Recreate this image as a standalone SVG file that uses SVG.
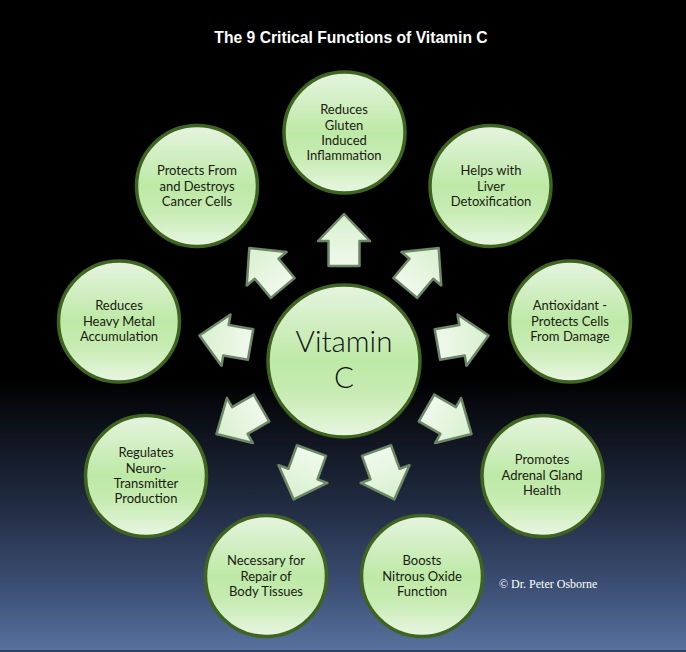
<svg xmlns="http://www.w3.org/2000/svg" xmlns:xlink="http://www.w3.org/1999/xlink" width="686" height="652" viewBox="0 0 686 652">
<style>
.n{stroke:#3f6420;stroke-width:3.5}
.t{font-family:"Lato","Open Sans",sans-serif;font-size:13px;fill:#1a1a10;text-anchor:middle}
.c{font-family:"Lato","Open Sans",sans-serif;font-size:29.5px;font-weight:300;fill:#111;text-anchor:middle}
.a{fill:url(#ag);stroke:#6d8866;stroke-width:2.5;stroke-linejoin:round}
</style>
<defs>
<linearGradient id="bg" x1="0" y1="0" x2="0" y2="1">
<stop offset="0" stop-color="#000"/><stop offset=".58" stop-color="#000"/><stop offset=".78" stop-color="#222d44"/><stop offset=".9" stop-color="#3c4f74"/><stop offset="1" stop-color="#57729f"/>
</linearGradient>
<linearGradient id="cg" x1="0" y1="0" x2="0" y2="1">
<stop offset="0" stop-color="#e6f4df"/><stop offset=".5" stop-color="#bde9a6"/><stop offset=".72" stop-color="#c8ecb4"/><stop offset="1" stop-color="#e9f6e3"/>
</linearGradient>
<linearGradient id="ag" x1="0" y1="0" x2="0" y2="1">
<stop offset="0" stop-color="#d8f0cf"/><stop offset="1" stop-color="#f0f9ec"/>
</linearGradient>
<polygon id="ar" class="a" points="0,-26 26,1 15.5,1 15.5,26 -15.5,26 -15.5,1 -26,1"/>
</defs>
<rect width="686" height="652" fill="url(#bg)"/>
<rect y="650" width="686" height="2" fill="#2f4360"/>
<text x="351" y="42.500" font-family="Liberation Sans, Arial, sans-serif" font-size="15.7" font-weight="bold" fill="#fff" text-anchor="middle">The 9 Critical Functions of Vitamin C</text>
<g id="connectors">
<use xlink:href="#ar" href="#ar" transform="translate(344,240)"/>
<use xlink:href="#ar" href="#ar" transform="translate(422,268) rotate(40)"/>
<use xlink:href="#ar" href="#ar" transform="translate(463,340) rotate(80)"/>
<use xlink:href="#ar" href="#ar" transform="translate(449,421) rotate(120)"/>
<use xlink:href="#ar" href="#ar" transform="translate(385.4,475) rotate(160)"/>
<use xlink:href="#ar" href="#ar" transform="translate(302.6,475) rotate(200)"/>
<use xlink:href="#ar" href="#ar" transform="translate(239,421) rotate(240)"/>
<use xlink:href="#ar" href="#ar" transform="translate(225,340) rotate(280)"/>
<use xlink:href="#ar" href="#ar" transform="translate(266,268) rotate(320)"/>
</g>
<g id="center"><circle class="n" cx="344" cy="361" r="76" fill="url(#cg)"/>
<text class="c" x="344" y="352">Vitamin</text>
<text class="c" x="344" y="388">C</text></g>
<g id="n1"><circle class="n" cx="344.500" cy="132.500" r="60.500" fill="url(#cg)"/><text class="t" x="344" y="114">Reduces</text><text class="t" x="344" y="130">Gluten</text><text class="t" x="344" y="145">Induced</text><text class="t" x="344" y="160">Inflammation</text></g>
<g id="n2"><circle class="n" cx="490.500" cy="186" r="60.500" fill="url(#cg)"/><text class="t" x="491" y="175">Helps with</text><text class="t" x="491" y="191">Liver</text><text class="t" x="491" y="206">Detoxification</text></g>
<g id="n3"><circle class="n" cx="570" cy="321.500" r="60.500" fill="url(#cg)"/><text class="t" x="570" y="310">Antioxidant -</text><text class="t" x="570" y="326">Protects Cells</text><text class="t" x="570" y="341">From Damage</text></g>
<g id="n4"><circle class="n" cx="542.500" cy="476" r="60.500" fill="url(#cg)"/><text class="t" x="542" y="464">Promotes</text><text class="t" x="542" y="480">Adrenal Gland</text><text class="t" x="542" y="495">Health</text></g>
<g id="n5"><circle class="n" cx="422" cy="576" r="60.500" fill="url(#cg)"/><text class="t" x="422" y="565">Boosts</text><text class="t" x="422" y="581">Nitrous Oxide</text><text class="t" x="422" y="596">Function</text></g>
<g id="n6"><circle class="n" cx="266" cy="576" r="60.500" fill="url(#cg)"/><text class="t" x="266" y="565">Necessary for</text><text class="t" x="266" y="581">Repair of</text><text class="t" x="266" y="596">Body Tissues</text></g>
<g id="n7"><circle class="n" cx="146" cy="476" r="60.500" fill="url(#cg)"/><text class="t" x="146" y="457">Regulates</text><text class="t" x="146" y="473">Neuro-</text><text class="t" x="146" y="488">Transmitter</text><text class="t" x="146" y="503">Production</text></g>
<g id="n8"><circle class="n" cx="119" cy="321.500" r="60.500" fill="url(#cg)"/><text class="t" x="119" y="310">Reduces</text><text class="t" x="119" y="326">Heavy Metal</text><text class="t" x="119" y="341">Accumulation</text></g>
<g id="n9"><circle class="n" cx="197" cy="186" r="60.500" fill="url(#cg)"/><text class="t" x="197" y="175">Protects From</text><text class="t" x="197" y="191">and Destroys</text><text class="t" x="197" y="206">Cancer Cells</text></g>
<text x="499" y="588" font-family="Liberation Serif, Times New Roman, serif" font-size="12" fill="#fff">© Dr. Peter Osborne</text>
</svg>
